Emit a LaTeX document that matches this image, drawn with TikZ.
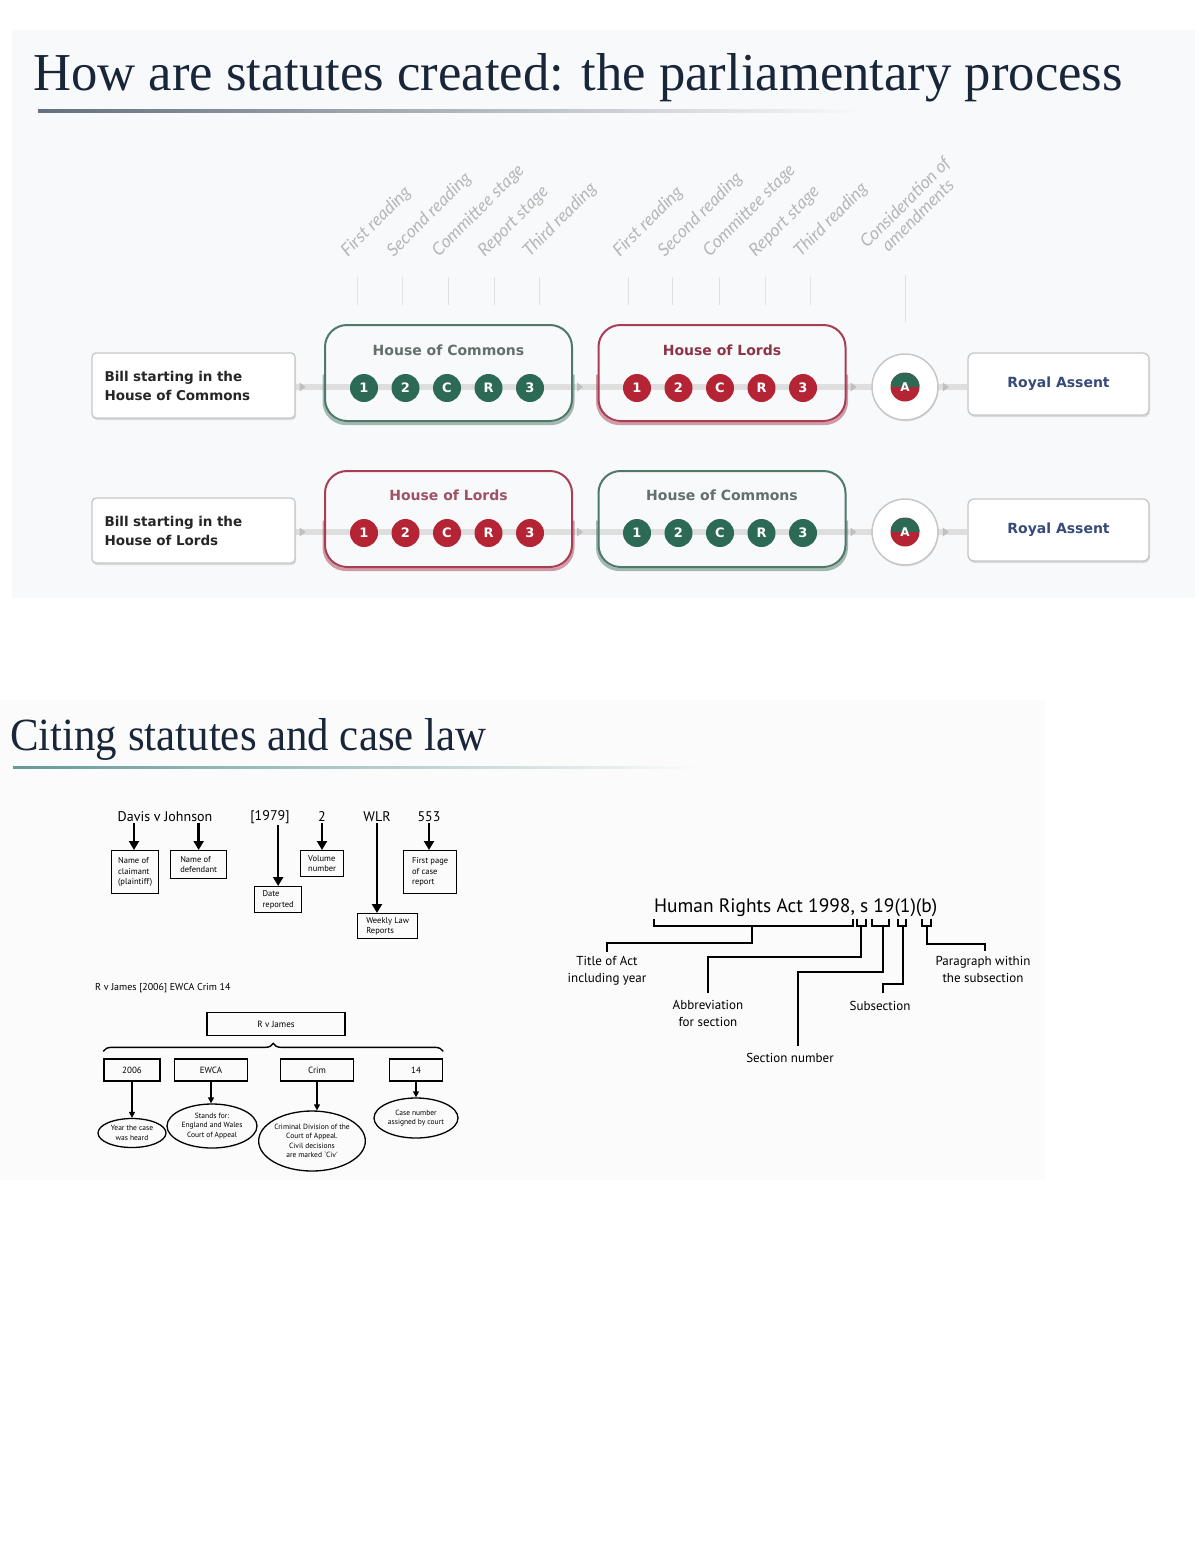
\documentclass[tikz,border=0pt]{standalone}
\usepackage{fontspec}
\setmainfont{Liberation Serif}
\newfontfamily\dv{DejaVu Sans}
\newfontfamily\pts{PT Sans}
\newfontfamily\lat{Lato}
\usetikzlibrary{arrows.meta,shapes.geometric,shadows,decorations.pathreplacing,backgrounds,calc}
\definecolor{agreen}{RGB}{45,106,85}
\definecolor{agreenb}{RGB}{78,120,104}
\definecolor{ared}{RGB}{181,36,52}
\definecolor{aredb}{RGB}{168,62,84}
\definecolor{hdrgray}{RGB}{100,110,106}
\definecolor{hdrred}{RGB}{142,52,72}
\definecolor{rblue}{RGB}{55,75,120}
\definecolor{rotgray}{RGB}{182,182,182}
\definecolor{ttlcol}{RGB}{25,38,58}
\definecolor{ulcol}{RGB}{100,112,125}
\definecolor{panel}{RGB}{248,249,250}
\definecolor{panelb}{RGB}{251,251,251}
\newcommand\boxshadow[2]{%
  \draw[draw=#2, opacity=0.5, line width=3pt, rounded corners=22pt]
    ($(#1.west)+(0,1.6)$) -- ($(#1.south west)+(0,1.6)$) -- ($(#1.south east)+(0,1.6)$) -- ($(#1.east)+(0,1.6)$);}
\begin{document}
\begin{tikzpicture}[x=1pt,y=-1pt,
  billbox/.style={draw=black!22, line width=1.3pt, rounded corners=4pt, fill=white,
     minimum width=203pt, minimum height=65pt, text width=178pt, align=left,
     inner xsep=12pt, font=\dv\bfseries\fontsize{13.5}{19}\selectfont, text=black!85,
     drop shadow={shadow xshift=1pt, shadow yshift=-2pt, opacity=0.25, fill=black!50}},
  plainbox/.style={draw=black!22, line width=1.3pt, rounded corners=6pt, fill=white,
     minimum width=181pt, minimum height=62pt, font=\dv\bfseries\fontsize{14}{16}\selectfont,
     text=rblue, drop shadow={shadow xshift=1pt, shadow yshift=-2pt, opacity=0.25, fill=black!50}},
  housebox/.style={rounded corners=22pt, minimum width=247pt, minimum height=96pt, line width=2pt},
  hdr/.style={font=\dv\bfseries\fontsize{14}{16}\selectfont},
  circ/.style={circle, minimum size=28pt, inner sep=0pt, font=\dv\bfseries\fontsize{13}{13}\selectfont, text=white},
  aout/.style={circle, draw=black!22, line width=1.5pt, fill=white, minimum size=66pt, inner sep=0pt,
     drop shadow={shadow xshift=0.5pt, shadow yshift=-1.5pt, opacity=0.2, fill=black!50}},
  ain/.style={circle, fill=ared, minimum size=29pt, inner sep=0pt, text=white,
     font=\dv\bfseries\fontsize{12}{12}\selectfont,
     path picture={\fill[agreen] (path picture bounding box.north west) rectangle (path picture bounding box.east);}},
  band/.style={draw=black!13, line width=6pt},
  tri/.style={fill=black!25},
  rotlbl/.style={rotate=45, anchor=south west, inner sep=0pt, text=rotgray,
     font=\lat\itshape\fontsize{17.5}{18}\selectfont},
  tick/.style={draw=black!12, line width=1pt},
  cite/.style={font=\pts\fontsize{14}{16}\selectfont, inner sep=1pt},
  smallbox/.style={draw, line width=1.3pt, anchor=north west, align=left, inner sep=2.5pt,
     font=\pts\fontsize{8.5}{10.5}\selectfont},
  bigarrow/.style={line width=2.4pt, -{Triangle[width=10pt,length=9pt]}},
  thinarrow/.style={line width=1.3pt, -{Triangle[width=6pt,length=6pt]}},
  rbox/.style={draw, line width=1.3pt, minimum height=22pt, inner sep=0pt, font=\pts\fontsize{9}{10}\selectfont},
  ell/.style={ellipse, draw, line width=1.3pt, inner sep=0pt, align=center,
     font=\pts\fontsize{7.5}{9.5}\selectfont},
  brk/.style={line width=1.5pt},
  lbl/.style={font=\pts\fontsize{13}{17}\selectfont, align=center, inner sep=0pt, anchor=north}
]
\useasboundingbox (0,0) rectangle (1200,1553);
\begin{scope}[on background layer]
  \fill[panel] (12,30) rectangle (1195,598);
  \fill[panelb] (0,700) rectangle (1045,1180);
\end{scope}

% ---------- Title 1 ----------
\node[anchor=base west, inner sep=0pt, text=ttlcol] (title1) at (33,90)
  {\resizebox{1089pt}{37pt}{How are statutes created: the parliamentary process}};
\shade[left color=ulcol, right color=panel] (38,109.5) rectangle (860,112.5);

% ---------- rotated stage labels ----------
\node[rotlbl] (s1) at (350,260) {First reading};
\node[rotlbl] (s2) at (396,260) {Second reading};
\node[rotlbl] (s3) at (441,260) {Committee stage};
\node[rotlbl] (s4) at (487,260) {Report stage};
\node[rotlbl] (s5) at (532,260) {Third reading};
\node[rotlbl] (s6) at (622,260) {First reading};
\node[rotlbl] (s7) at (667,260) {Second reading};
\node[rotlbl] (s8) at (712,260) {Committee stage};
\node[rotlbl] (s9) at (758,260) {Report stage};
\node[rotlbl] (s10) at (803,260) {Third reading};
\node[rotlbl, align=center] (s11) at (880,262) {Consideration of\\amendments};
\foreach \x in {357,402,448,494,539,628,672,719,765,810}
  \draw[tick] (\x,277) -- (\x,305);
\draw[tick] (905,275) -- (905,322);

% ---------- Row 1 ----------
\node[billbox] (bill1) at (193.5,385.5) {Bill starting in the\\House of Commons};
\node[housebox, draw=agreenb] (hc1) at (448.5,373) {};
\node[hdr, text=hdrgray] (hc1h) at (448.5,350) {House of Commons};
\node[housebox, draw=aredb] (hl1) at (722,373) {};
\node[hdr, text=hdrred] (hl1h) at (722,350) {House of Lords};
\node[aout] (a1) at (905,387) {};
\node[ain] (a1i) at (a1) {A};
\node[plainbox] (ra1) at (1058.5,384) {Royal Assent};
\foreach \t [count=\i] in {1,2,C,R,3} {
  \node[circ, fill=agreen] (hc1c\i) at ({364+41.5*(\i-1)},388) {\t};
  \node[circ, fill=ared] (hl1c\i) at ({637+41.5*(\i-1)},388) {\t};
}

% ---------- Row 2 ----------
\node[billbox] (bill2) at (193.5,530.5) {Bill starting in the\\House of Lords};
\node[housebox, draw=aredb] (hl2) at (448.5,519) {};
\node[hdr, text=hdrred!85] (hl2h) at (448.5,495) {House of Lords};
\node[housebox, draw=agreenb] (hc2) at (722,519) {};
\node[hdr, text=hdrgray] (hc2h) at (722,495) {House of Commons};
\node[aout] (a2) at (905,532) {};
\node[ain] (a2i) at (a2) {A};
\node[plainbox] (ra2) at (1058.5,530) {Royal Assent};
\foreach \t [count=\i] in {1,2,C,R,3} {
  \node[circ, fill=ared] (hl2c\i) at ({364+41.5*(\i-1)},533) {\t};
  \node[circ, fill=agreen] (hc2c\i) at ({637+41.5*(\i-1)},533) {\t};
}

% ---------- flow bands and box shadows ----------
\begin{scope}[on background layer]
  \draw[band] (bill1.east |- a1) -- (ra1.west |- a1);
  \draw[band] (bill2.east |- a2) -- (ra2.west |- a2);
  \foreach \n/\r in {bill1/a1,hc1/a1,hl1/a1,a1/a1,bill2/a2,hl2/a2,hc2/a2,a2/a2}
    \fill[tri] ($(\n.east |- \r)+(4,0)$) -- ++(0,-4.5) -- ++(6,4.5) -- ++(-6,4.5) -- cycle;
  \boxshadow{hc1}{agreenb}
  \boxshadow{hl1}{aredb}
  \boxshadow{hl2}{aredb}
  \boxshadow{hc2}{agreenb}
\end{scope}

% ---------- Title 2 ----------
\node[anchor=base west, inner sep=0pt, text=ttlcol] (title2) at (10,750)
  {\resizebox{476pt}{32pt}{Citing statutes and case law}};
\shade[left color=teal!50!gray!80, right color=panelb] (13,766) rectangle (700,768);

% ---------- Davis v Johnson ----------
\node[cite] (dj) at (165,817) {Davis v Johnson};
\node[cite] (yr) at (270,817) {[1979]};
\node[cite] (vol) at (322,817) {2};
\node[cite] (wlr) at (377,817) {WLR};
\node[cite] (pg) at (429,817) {553};

\node[smallbox, minimum width=47pt, minimum height=43pt] (claim) at (111,850) {Name of\\claimant\\(plaintiff)};
\node[smallbox, minimum width=56pt, minimum height=28pt] (defn) at (170,850) {Name of\\defendant};
\node[smallbox, minimum width=47pt, minimum height=26pt] (dater) at (254,886) {Date\\reported};
\node[smallbox, minimum width=43pt, minimum height=26pt] (volno) at (300,850) {Volume\\number};
\node[smallbox, minimum width=60pt, minimum height=25pt] (wlrb) at (357,913) {Weekly Law\\Reports};
\node[smallbox, minimum width=53pt, minimum height=43pt] (fpage) at (403,850) {First page\\of case\\report};

\draw[bigarrow] (dj.south -| 134,0) -- (claim.north -| 134,0);
\draw[bigarrow] (dj.south -| defn.north) -- (defn.north);
\draw[bigarrow] (yr.south -| dater.north) -- (dater.north);
\draw[bigarrow] (vol.south) -- (vol.south |- volno.north);
\draw[bigarrow] (wlr.south) -- (wlr.south |- wlrb.north);
\draw[bigarrow] (pg.south) -- (pg.south |- fpage.north);

% ---------- R v James ----------
\node[anchor=west, font=\pts\fontsize{10}{12}\selectfont, inner sep=0pt] (rjc) at (95,988) {R v James [2006] EWCA Crim 14};
\node[rbox, minimum width=138pt, minimum height=23pt] (rjb) at (276,1024) {R v James};
\node[rbox, minimum width=56pt] (b2006) at (132,1070) {2006};
\node[rbox, minimum width=73pt] (bewca) at (211,1070) {EWCA};
\node[rbox, minimum width=73pt] (bcrim) at (317,1070) {Crim};
\node[rbox, minimum width=53pt] (b14) at (416,1070) {14};
\draw[decorate, decoration={brace, amplitude=8pt}, line width=1.4pt]
  ($(b2006.north west)+(0,-7)$) -- ($(b14.north east)+(0,-7)$);

\node[ell, minimum width=68pt, minimum height=29pt] (e2006) at (132,1133) {Year the case\\was heard};
\node[ell, minimum width=90pt, minimum height=44pt] (eewca) at (212,1126) {Stands for:\\England and Wales\\Court of Appeal};
\node[ell, minimum width=103pt, minimum height=60pt] (ecrim) at (312,1141) {Criminal Division of the\\Court of Appeal.\\Civil decisions\\are marked `Civ'};
\node[ell, minimum width=84pt, minimum height=40pt] (e14) at (416,1118) {Case number\\assigned by court};

\draw[thinarrow] (b2006.south) -- (e2006.north);
\draw[thinarrow] (bewca.south) -- (bewca.south |- eewca.north);
\draw[thinarrow] (bcrim.south) -- (bcrim.south |- ecrim.north);
\draw[thinarrow] (b14.south) -- (b14.south |- e14.north);

% ---------- Human Rights Act ----------
\node[anchor=base west, inner sep=0pt] (hra) at (654,912)
  {\resizebox{283pt}{!}{\pts Human Rights Act 1998, s 19(1)(b)}};

\node[lbl] (ttl) at (607,956) {Title of Act\\including year};
\node[lbl] (abbr) at (708,1000) {Abbreviation\\for section};
\node[lbl] (secn) at (790,1053) {Section number};
\node[lbl] (subs) at (880,1001) {Subsection};
\node[lbl] (para) at (983,956) {Paragraph within\\the subsection};

\draw[brk] (654,919) -- (654,926) -- (853,926) -- (853,919);
\draw[brk] (752,926) -- (752,943) -| ($(ttl.north)+(0,-4)$);
\draw[brk] (857,919) -- (857,926) -- (866,926) -- (866,919);
\draw[brk] (861,926) -- (861,957) -| ($(abbr.north)+(0,-7)$);
\draw[brk] (872,919) -- (872,926) -- (889,926) -- (889,919);
\draw[brk] (883,926) -- (883,972) -- (798,972) -- ($(798,0 |- secn.north)+(0,-7)$);
\draw[brk] (898,919) -- (898,926) -- (906,926) -- (906,919);
\draw[brk] (903,926) -- (903,984) -| ($(subs.north)+(3,-8)$);
\draw[brk] (922,919) -- (922,926) -- (931,926) -- (931,919);
\draw[brk] (927,926) -- (927,944) -| ($(para.north)+(2,-5)$);
\end{tikzpicture}
\end{document}
